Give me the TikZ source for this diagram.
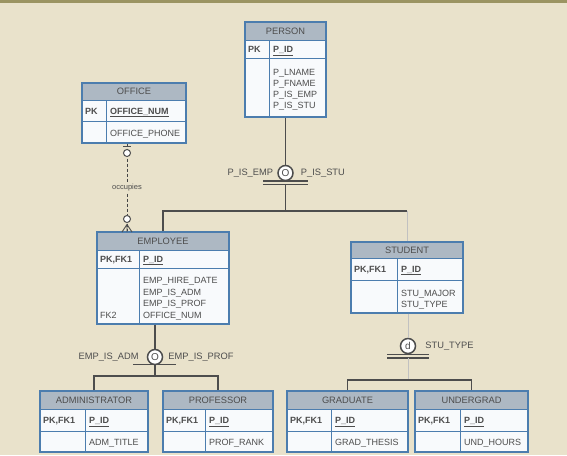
\documentclass[tikz,border=0pt]{standalone}
\usepackage{fontspec}
\setmainfont{Liberation Sans}
\usetikzlibrary{fit}

\definecolor{paper}{HTML}{E9E2CB}
\definecolor{olive}{HTML}{9B9462}
\definecolor{tblblue}{HTML}{4C7DAE}
\definecolor{headfill}{HTML}{ADB8C3}
\definecolor{bodyfill}{HTML}{F8FAFC}
\definecolor{ink}{HTML}{4D4D4D}

\tikzset{
  tblline/.style={draw=tblblue, line width=1pt},
  tblbox/.style={draw=tblblue, line width=1.2pt, inner sep=0pt},
  tbltitle/.style={text=ink, font=\fontsize{9.3}{11}\selectfont},
  keyt/.style={anchor=base west, inner sep=0pt, font=\fontsize{9}{11}\selectfont\bfseries},
  pkt/.style={anchor=base west, inner sep=0pt, font=\fontsize{9}{11}\selectfont\bfseries},
  att/.style={anchor=base west, inner sep=0pt},
  link/.style={draw=ink, line width=1.1pt},
  faint/.style={draw=ink!35, line width=0.8pt},
  rel/.style={draw=ink!90!black, line width=0.9pt, dash pattern=on 3pt off 2pt},
  subcirc/.style={circle, draw=ink, line width=1.5pt, fill=white, minimum size=15pt, inner sep=0pt,
    font=\fontsize{10}{11}\selectfont},
  sublbl/.style={font=\fontsize{9.3}{11}\selectfont, inner sep=0pt},
  optc/.style={circle, draw=ink, line width=1pt, fill=white, minimum size=7pt, inner sep=0pt}
}

% table: name, x0, y0, x1, divider, header bottom, pk bottom, y1, title
\newcommand{\ertable}[9]{%
  \fill[headfill] (#2,#3) rectangle (#4,#6);
  \fill[bodyfill] (#2,#6) rectangle (#4,#8);
  \draw[tblline] (#2,#6) -- (#4,#6) (#2,#7) -- (#4,#7) (#5,#6) -- (#5,#8);
  \coordinate (#1-nw) at (#2,#3);
  \coordinate (#1-se) at (#4,#8);
  \node[tblbox, fit=(#1-nw)(#1-se)] (#1) {};
  \node[tbltitle] (#1-t) at ({(#2+#4)/2},{(#3+#6)/2}) {#9};
}

\begin{document}
\begin{tikzpicture}[x=1pt,y=-1pt,font=\fontsize{9}{11}\selectfont,text=ink]
  \fill[paper] (0,0) rectangle (567,455);
  \fill[olive] (0,0) rectangle (567,3);
  \useasboundingbox (0,0) rectangle (567,455);

  % entities
  \ertable{person}{245}{22}{326}{269}{40}{58}{117}{PERSON}
  \node[keyt] (person-k) at (248,52.5) {PK};
  \node[pkt] (person-p) at (273,52.5) {\underline{P\_ID}};
  \foreach \a [count=\i] in {P\_LNAME,P\_FNAME,P\_IS\_EMP,P\_IS\_STU}
    \node[att] (person-a\i) at (273,{64+11*\i}) {\a};

  \ertable{office}{82}{83}{186}{106}{100}{121}{143}{OFFICE}
  \node[keyt] (office-k) at (85,114) {PK};
  \node[pkt] (office-p) at (110,114) {\underline{OFFICE\_NUM}};
  \node[att] (office-a1) at (110,136) {OFFICE\_PHONE};

  \ertable{employee}{97}{232}{229}{139}{250}{268}{324}{EMPLOYEE}
  \node[keyt] (employee-k) at (100,262) {PK,FK1};
  \node[pkt] (employee-p) at (143,262) {\underline{P\_ID}};
  \foreach \a [count=\i] in {EMP\_HIRE\_DATE,EMP\_IS\_ADM,EMP\_IS\_PROF,OFFICE\_NUM}
    \node[att] (employee-a\i) at (143,{272+11.5*\i}) {\a};
  \node[att] (employee-f) at (100,318) {FK2};

  \ertable{student}{351}{242}{463}{397}{258}{280}{313}{STUDENT}
  \node[keyt] (student-k) at (354,272) {PK,FK1};
  \node[pkt] (student-p) at (401,272) {\underline{P\_ID}};
  \node[att] (student-a1) at (401,296) {STU\_MAJOR};
  \node[att] (student-a2) at (401,307) {STU\_TYPE};

  \foreach \nm/\xa/\xd/\xb/\ti/\at in {admin/40/85/148/ADMINISTRATOR/ADM\_TITLE,
      prof/163/205/273/PROFESSOR/PROF\_RANK,
      grad/287/331/408/GRADUATE/GRAD\_THESIS,
      under/415/460/528/UNDERGRAD/UND\_HOURS}{
    \ertable{\nm}{\xa}{391}{\xb}{\xd}{409}{431}{452}{\ti}
    \node[keyt] (\nm-k) at (\xa+3,423.5) {PK,FK1};
    \node[pkt] (\nm-p) at (\xd+4,423.5) {\underline{P\_ID}};
    \node[att] (\nm-a1) at (\xd+4,445) {\at};
  }

  % person subtypes
  \node[subcirc] (pisa) at (285.5,173) {O};
  \node[sublbl, anchor=east] (pisa-l) at ([xshift=-4pt]pisa.west) {P\_IS\_EMP};
  \node[sublbl, anchor=west] (pisa-r) at ([xshift=7pt]pisa.east) {P\_IS\_STU};
  \coordinate (pbar) at (285.5,184.5);
  \coordinate (psplit) at (285.5,211);
  \draw[link] (263,181) -- (308,181) (263,184.5) -- (308,184.5);
  \draw[link] (person.south -| pisa) -- (pisa);
  \draw[link] (pbar) -- (psplit);
  \draw[link] (employee.north) |- (psplit) -- (psplit -| student.north);
  \draw[faint] (psplit -| student.north) -- (student.north);

  % employee subtypes
  \node[subcirc] (eisa) at (155,357) {O};
  \node[sublbl, anchor=east] (eisa-l) at ([xshift=-8pt]eisa.west) {EMP\_IS\_ADM};
  \node[sublbl, anchor=west] (eisa-r) at ([xshift=5pt]eisa.east) {EMP\_IS\_PROF};
  \coordinate (ebar) at (155,364.5);
  \coordinate (esplit) at (155,376);
  \draw[link] (133,364.5) -- (176,364.5);
  \draw[link] (employee.south -| eisa) -- (eisa);
  \draw[link] (ebar) -- (esplit);
  \draw[link] (admin.north) |- (esplit) -| (prof.north);

  % student subtypes
  \node[subcirc] (sisa) at (408,346) {d};
  \node[sublbl, anchor=west] (sisa-r) at ([xshift=9pt]sisa.east) {STU\_TYPE};
  \coordinate (sbar) at (408,357.5);
  \coordinate (ssplit) at (408,380);
  \draw[link] (387,354.5) -- (429,354.5) (387,358) -- (429,358);
  \draw[faint] (student.south -| sisa) -- (sisa);
  \draw[faint] (sbar) -- (ssplit);
  \draw[link] (grad.north) |- (ssplit) -| (under.north);

  % occupies
  \coordinate (occ) at (127,0);
  \draw[rel] (office.south -| occ) -- (employee.north -| occ)
    node[midway, fill=paper, inner sep=1pt, font=\fontsize{7.5}{9}\selectfont] (occ-l) {occupies};
  \draw[link, line width=0.9pt] (123,146.5) -- (131,146.5);
  \node[optc] (occ-o1) at (127,153) {};
  \node[optc] (occ-o2) at (127,219) {};
  \draw[link, line width=0.9pt] (122,232) -- (127,224.5) -- (132,232) (127,224.5) -- (127,232);
\end{tikzpicture}
\end{document}
